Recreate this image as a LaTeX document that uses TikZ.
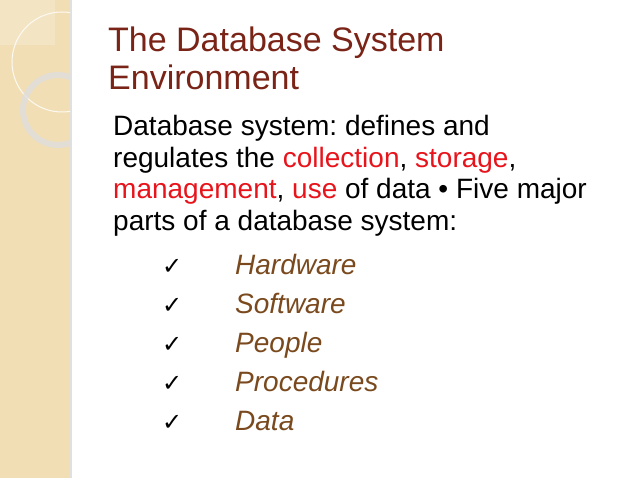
\documentclass[tikz,border=0pt]{standalone}
\usepackage{fontspec}
\setmainfont{Liberation Sans}
\newfontfamily\dejavu{DejaVu Sans}
\frenchspacing
\definecolor{titlecol}{HTML}{7A2418}
\definecolor{itemcol}{HTML}{7A4A1E}
\definecolor{side}{HTML}{F1DEB4}
\definecolor{redw}{HTML}{E8141C}
\tikzset{body/.style={anchor=base west,inner sep=0pt,font=\fontsize{28}{32}\selectfont},
item/.style={anchor=base west,inner sep=0pt,text=itemcol,font=\fontsize{28}{32}\selectfont\itshape},
chk/.style={anchor=base west,inner sep=0pt,font=\dejavu\fontsize{24}{26}\selectfont}}
\begin{document}
\begin{tikzpicture}[x=1pt,y=-1pt]
\useasboundingbox (0,0) rectangle (638,478);
\fill[white] (0,0) rectangle (638,478);
\fill[side] (0,0) rectangle (70,478);
\fill[black!12] (70,0) rectangle (72,478);
\begin{scope}
\clip (0,0) rectangle (70,478);
\fill[white,opacity=0.2] (0,0) rectangle (55,45);
\draw[white!85!side,line width=1pt] (62,62) circle (50);
\draw[white!75!gray,opacity=0.8,line width=6pt] (58,110) circle (35);
\end{scope}
\node[anchor=base west,inner sep=0pt,text=titlecol,font=\fontsize{34}{38}\selectfont] (t1) at (108,52) {The Database System};
\node[anchor=base west,inner sep=0pt,text=titlecol,font=\fontsize{34}{38}\selectfont] (t2) at (108,90) {Environment};
\node[body] (b1) at (113,136) {Database system: defines and};
\node[body] (b2) at (113,168) {regulates the \textcolor{redw}{collection}, \textcolor{redw}{storage},};
\node[body] (b3) at (113,199) {\textcolor{redw}{management}, \textcolor{redw}{use} of data • Five major};
\node[body] (b4) at (113,231) {parts of a database system:};
\foreach \t [count=\i] in {Hardware,Software,People,Procedures,Data}{
  \node[chk] (c\i) at (162,275+39*\i-39) {✓};
  \node[item] (i\i) at (235,275+39*\i-39) {\t};
}
\end{tikzpicture}
\end{document}
